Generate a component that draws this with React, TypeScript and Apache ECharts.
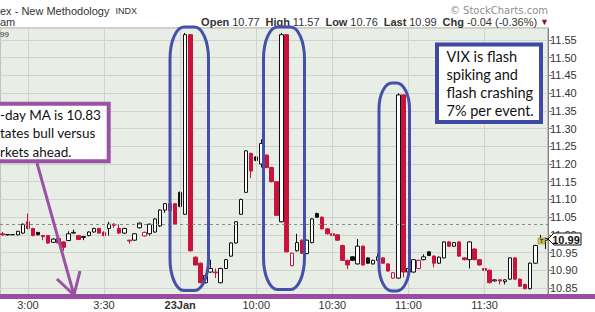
import React, { useEffect, useRef } from "react";
import * as echarts from "echarts";

// ---- data -------------------------------------------------------------
// two sessions of 2-minute bars (22 Jan afternoon, 23 Jan morning)
const sessionStarts = [14 * 60 + 50, 9 * 60 + 30];
const sessionCounts = [35, 73];
const barMinutes = 2;

const xTickTimes = ["3:00", "3:30", "9:30", "10:00", "10:30", "11:00", "11:30"];
const xTickText = ["3:00", "3:30", "23Jan", "10:00", "10:30", "11:00", "11:30"];

const opens = [
  11.003, 11.0, 11.0, 11.0, 11.005, 11.037, 11.018, 11.007, 10.998, 10.998,
  10.979, 10.99, 10.98, 10.984, 11.005, 10.998, 10.995, 10.998, 11.008, 11.018,
  11.007, 11.018, 11.03, 11.018, 11.005, 10.985, 10.985, 11.02, 10.997, 11.003,
  11.008, 11.025, 11.07, 11.088, 11.088, 11.12, 11.058, 11.565, 10.937, 10.92,
  10.865, 10.895, 10.895, 10.865, 10.905, 10.94, 10.977, 11.058, 11.12, 11.23,
  11.22, 11.2, 11.225, 11.19, 11.15, 11.037, 11.565, 10.913, 10.955, 10.985,
  10.947, 10.978, 11.06, 11.05, 11.017, 11.003, 11.0, 10.97, 10.928, 10.938,
  10.918, 10.968, 10.935, 10.918, 10.928, 10.935, 10.918, 10.878, 10.878, 11.395,
  10.895, 10.895, 10.905, 10.93, 10.952, 10.94, 10.92, 10.935, 10.98, 10.968,
  10.98, 10.935, 10.93, 10.96, 10.93, 10.905, 10.9, 10.87, 10.873, 10.868,
  10.875, 10.935, 10.875, 10.86, 10.848, 10.92, 10.99, 10.985,
];
const closes = [
  11.0, 11.001, 11.001, 11.01, 11.03, 11.018, 10.998, 11.0, 10.995, 10.977,
  10.988, 10.977, 10.965, 11.003, 11.007, 10.987, 10.993, 11.008, 11.018, 11.005,
  10.998, 11.03, 11.027, 11.005, 11.018, 10.983, 11.003, 11.033, 11.007, 11.03,
  11.045, 11.07, 11.088, 11.068, 11.03, 11.08, 11.565, 10.955, 10.915, 10.865,
  10.885, 10.905, 10.893, 10.905, 10.93, 10.977, 11.037, 11.1, 11.237, 11.18,
  11.21, 11.258, 11.19, 11.15, 11.055, 11.565, 10.952, 10.948, 10.978, 10.948,
  10.985, 11.045, 11.05, 11.017, 11.003, 10.998, 10.985, 10.928, 10.915, 10.928,
  10.968, 10.915, 10.92, 10.928, 10.938, 10.92, 10.898, 10.893, 11.395, 10.895,
  10.905, 10.93, 10.928, 10.938, 10.942, 10.92, 10.937, 10.98, 10.968, 10.978,
  10.94, 10.93, 10.98, 10.93, 10.915, 10.9, 10.865, 10.873, 10.87, 10.873,
  10.935, 10.875, 10.855, 10.848, 10.92, 10.97, 10.985, 10.99,
];
const lows = [
  10.998, 10.998, 10.999, 10.999, 11.003, 11.015, 10.996, 10.999, 10.985, 10.975,
  10.977, 10.975, 10.955, 10.982, 11.003, 10.985, 10.985, 10.996, 11.006, 11.003,
  10.996, 10.998, 11.02, 11.003, 11.003, 10.975, 10.983, 11.018, 10.995, 10.998,
  11.006, 11.022, 11.062, 11.066, 11.028, 11.078, 11.056, 10.953, 10.913, 10.863,
  10.863, 10.893, 10.878, 10.863, 10.903, 10.938, 10.975, 11.056, 11.118, 11.16,
  11.208, 11.19, 11.188, 11.148, 11.053, 11.035, 10.95, 10.911, 10.953, 10.946,
  10.945, 10.976, 11.048, 11.015, 11.001, 10.99, 10.983, 10.926, 10.903, 10.926,
  10.916, 10.913, 10.918, 10.916, 10.926, 10.918, 10.896, 10.876, 10.876, 10.88,
  10.893, 10.893, 10.903, 10.928, 10.94, 10.908, 10.918, 10.933, 10.966, 10.966,
  10.938, 10.928, 10.905, 10.928, 10.913, 10.895, 10.863, 10.868, 10.86, 10.86,
  10.873, 10.873, 10.853, 10.846, 10.846, 10.918, 10.983, 10.96,
];
const highs = [
  11.008, 11.002, 11.002, 11.011, 11.032, 11.06, 11.02, 11.008, 11.0, 11.0,
  10.99, 10.992, 10.982, 11.01, 11.015, 11.0, 10.997, 11.01, 11.02, 11.02,
  11.01, 11.037, 11.033, 11.03, 11.02, 10.986, 11.005, 11.035, 11.009, 11.032,
  11.047, 11.072, 11.09, 11.09, 11.09, 11.122, 11.57, 11.567, 10.939, 10.922,
  10.887, 10.93, 10.905, 10.907, 10.932, 10.979, 11.039, 11.102, 11.239, 11.232,
  11.222, 11.27, 11.227, 11.192, 11.152, 11.57, 11.567, 10.95, 11.003, 10.987,
  10.987, 11.047, 11.063, 11.052, 11.019, 11.005, 11.002, 10.972, 10.93, 10.94,
  10.988, 10.97, 10.937, 10.93, 10.947, 10.937, 10.92, 10.895, 11.4, 11.397,
  10.907, 10.932, 10.93, 10.945, 10.954, 10.942, 10.939, 10.982, 10.982, 10.98,
  10.982, 10.937, 10.982, 10.962, 10.932, 10.91, 10.902, 10.875, 10.875, 10.875,
  10.937, 10.937, 10.877, 10.862, 10.922, 10.972, 11.0, 10.992,
];
const previousClose = 11.03;
const lastValue = 10.99;

// ---- helpers ----------------------------------------------------------
function buildTimes(): string[] {
  const out: string[] = [];
  sessionStarts.forEach((start, s) => {
    for (let i = 0; i < sessionCounts[s]; i++) {
      const m = start + i * barMinutes;
      const h = Math.floor(m / 60);
      const h12 = h > 12 ? h - 12 : h;
      out.push(`${h12}:${String(m % 60).padStart(2, "0")}`);
    }
  });
  return out;
}

const RED = "#c8143c";
const BLACK = "#111111";
const BLUE = "#4450aa";
const PURPLE = "#9a52a4";
const LABEL_FONT = "Liberation Sans, Arial, sans-serif";
const NOTE_FONT = "Lato, 'Open Sans', sans-serif";

function blob(l: number, r: number, t: number, b: number, rx: number, ry: number) {
  return `M${l} ${t + ry} A${rx} ${ry} 0 0 1 ${l + rx} ${t} L${r - rx} ${t} A${rx} ${ry} 0 0 1 ${r} ${t + ry} L${r} ${b - ry} A${rx} ${ry} 0 0 1 ${r - rx} ${b} L${l + rx} ${b} A${rx} ${ry} 0 0 1 ${l} ${b - ry} Z`;
}
echarts.graphic.registerShape("blob1", echarts.graphic.extendPath(blob(170, 208.5, 27, 290.5, 14, 32), {}));
echarts.graphic.registerShape("blob2", echarts.graphic.extendPath(blob(263.5, 304.5, 27, 289.5, 14, 32), {}));
echarts.graphic.registerShape("blob3", echarts.graphic.extendPath(blob(379, 409.5, 83, 291, 13, 26), {}));

function candleSeries(wantRed: boolean, col: string) {
  const empty = ["-", "-", "-", "-"];
  const data = opens.map((o, i) => {
    const c = closes[i];
    const prev = i > 0 ? closes[i - 1] : o;
    const isRed = c < prev;
    return isRed === wantRed ? [o, c, lows[i], highs[i]] : empty;
  });
  return {
    type: "candlestick",
    data,
    z: 2,
    barWidth: 4,
    itemStyle: { color: "#ffffff", color0: col, borderColor: col, borderColor0: col, borderWidth: 1 },
  };
}

export default function App() {
  const ref = useRef<HTMLDivElement>(null);
  useEffect(() => {
    const chart = echarts.init(ref.current!, null, { renderer: "svg" });
    const cats = buildTimes();

    const option: any = {
      animation: false,
      backgroundColor: "#ffffff",
      grid: {
        left: -2,
        right: 47,
        top: 28,
        bottom: 16,
        show: true,
        backgroundColor: "#e8ede6",
        borderColor: "#9a9a9a",
        borderWidth: 1,
      },
      xAxis: {
        type: "category",
        data: cats,
        boundaryGap: true,
        axisLine: { show: false },
        axisTick: { show: false },
        splitLine: { show: false },
        axisLabel: {
          interval: (_i: number, v: string) => xTickTimes.indexOf(v) >= 0,
          formatter: (v: string) => {
            const k = xTickTimes.indexOf(v);
            const t = k >= 0 ? xTickText[k] : v;
            return k === 2 ? `{b|${t}}` : t;
          },
          color: "#333",
          fontSize: 11,
          fontFamily: LABEL_FONT,
          margin: 3,
          rich: { b: { fontWeight: "bold", fontSize: 11, color: "#333", fontFamily: LABEL_FONT } },
        },
      },
      yAxis: {
        type: "value",
        position: "right",
        min: 10.8274,
        max: 11.5839,
        minInterval: 0.05,
        maxInterval: 0.05,
        axisLine: { show: true, lineStyle: { color: "#808080" } },
        axisTick: { show: true, length: 4, lineStyle: { color: "#808080" } },
        axisLabel: {
          color: "#333",
          fontSize: 11,
          fontFamily: LABEL_FONT,
          margin: 2,
          showMinLabel: false,
          showMaxLabel: false,
          formatter: (v: number) => v.toFixed(2),
        },
        splitLine: { show: true, lineStyle: { color: "#cdd6cc", width: 1 } },
      },
      series: [
        {
          type: "line",
          data: [],
          z: 1,
          silent: true,
          markLine: {
            silent: true,
            symbol: ["none", "none"],
            label: { show: false },
            animation: false,
            data: [
              ...xTickTimes.map((t) => ({ xAxis: t, lineStyle: { color: "#cdd6cc", width: 1, type: "solid" } })),
              { yAxis: previousClose, lineStyle: { color: "#8a8a8a", width: 1, type: [3, 3] } },
            ],
          },
        },
        candleSeries(false, BLACK),
        candleSeries(true, RED),
      ],
      graphic: [
        // header
        {
          type: "text", z: 100, x: 0, y: 10.5,
          style: {
            text: "ex - New Methodology  {s|INDX}", font: `11px ${LABEL_FONT}`, fill: "#333",
            verticalAlign: "middle", align: "left",
            rich: { s: { fontSize: 9, fontFamily: LABEL_FONT, fill: "#333" } },
          },
        },
        { type: "text", z: 100, x: 0, y: 22, style: { text: "am", font: `11px ${LABEL_FONT}`, fill: "#333", verticalAlign: "middle" } },
        { type: "text", z: 100, x: 0, y: 34, style: { text: "99", font: `8px ${LABEL_FONT}`, fill: "#333", verticalAlign: "middle" } },
        {
          type: "text", z: 100, x: 548, y: 10.5,
          style: { text: "\u00a9 StockCharts.com", font: "10px 'DejaVu Sans', sans-serif", fill: "#8f8f8f", align: "right", verticalAlign: "middle" },
        },
        {
          type: "text", z: 100, x: 549, y: 22,
          style: {
            text: "{b|Open} {v|10.77}  {b|High} {v|11.57}  {b|Low} {v|10.76}  {b|Last} {v|10.99}  {b|Chg} {v|-0.04 (-0.36%)} {r|\u25bc}",
            font: `10.5px ${LABEL_FONT}`, fill: "#333", align: "right", verticalAlign: "middle",
            rich: {
              b: { fontWeight: "bold", fontSize: 11, fontFamily: LABEL_FONT, fill: "#333" },
              v: { fontSize: 11, fontFamily: LABEL_FONT, fill: "#333" },
              r: { fontSize: 9, fontFamily: LABEL_FONT, fill: "#8b1538" },
            },
          },
        },
        // last value tag
        {
          type: "polygon", z: 110,
          shape: { points: [[548, 239], [554, 233], [581, 233], [581, 245], [554, 245]] },
          style: { fill: "#ffffff", stroke: "#111", lineWidth: 1 },
        },
        { type: "text", z: 111, x: 566, y: 239.5, style: { text: lastValue.toFixed(2), font: `bold 11px ${LABEL_FONT}`, fill: "#111", align: "center", verticalAlign: "middle" } },
        { type: "rect", z: 110, shape: { x: 538, y: 238, width: 7, height: 6 }, style: { fill: "#cfc24e", stroke: "#8c8230", lineWidth: 0.5 } },
        { type: "text", z: 111, x: 541.5, y: 241.2, style: { text: "T", font: `bold 6px ${LABEL_FONT}`, fill: "#333", align: "center", verticalAlign: "middle" } },
        // blue spike outlines
        { type: "blob1", z: 120, x: 0, y: 0, style: { fill: "none", stroke: BLUE, lineWidth: 3 } },
        { type: "blob2", z: 120, x: 0, y: 0, style: { fill: "none", stroke: BLUE, lineWidth: 3 } },
        { type: "blob3", z: 120, x: 0, y: 0, style: { fill: "none", stroke: BLUE, lineWidth: 3 } },
        // blue note
        { type: "rect", z: 120, shape: { x: 437, y: 44.5, width: 104, height: 77.5 }, style: { fill: "#ffffff", stroke: "#3f48a5", lineWidth: 4 } },
        {
          type: "text", z: 121, x: 446.5, y: 47,
          style: { text: "VIX is flash\nspiking and\nflash crashing\n7% per event.", font: `14.5px ${NOTE_FONT}`, lineHeight: 18, fill: "#111", align: "left", verticalAlign: "top" },
        },
        // purple note
        { type: "rect", z: 120, shape: { x: -10, y: 103.7, width: 118.7, height: 57.6 }, style: { fill: "#ffffff", stroke: PURPLE, lineWidth: 4 } },
        {
          type: "text", z: 121, x: 0, y: 105.5,
          style: { text: "-day MA is 10.83\ntates bull versus\nrkets ahead.", font: `13.5px ${NOTE_FONT}`, lineHeight: 18.5, fill: "#111", align: "left", verticalAlign: "top" },
        },
        // purple arrow
        { type: "line", z: 125, shape: { x1: 37, y1: 163, x2: 74, y2: 295 }, style: { stroke: PURPLE, lineWidth: 3 } },
        { type: "polyline", z: 125, shape: { points: [[57, 279], [74, 295], [80, 271]] }, style: { stroke: PURPLE, lineWidth: 3, fill: "none" } },
        // purple base line
        { type: "rect", z: 126, shape: { x: 0, y: 294, width: 595, height: 5 }, style: { fill: "#9a4ea2" } },
      ],
    };
    chart.setOption(option);
    return () => chart.dispose();
  }, []);
  return (
    <div
      ref={ref}
      style={{ position: "absolute", left: 0, top: 0, width: 595, height: 312, background: "#ffffff" }}
    />
  );
}
